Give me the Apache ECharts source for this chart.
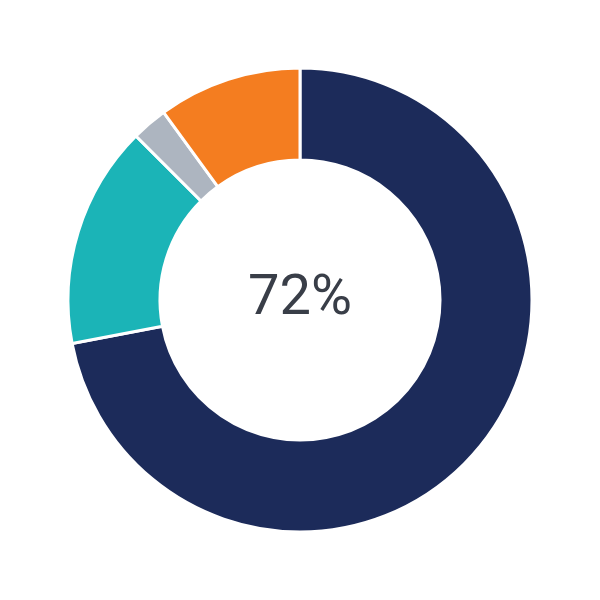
<!DOCTYPE html>
<html><head><meta charset="utf-8">
<script src="https://cdn.jsdelivr.net/npm/echarts@6/dist/echarts.min.js"></script>
<style>html,body{margin:0;padding:0;background:#fff}#c{width:600px;height:600px}</style>
</head><body><div id="c"></div>
<script>
var categories = ['A', 'B', 'C', 'D'];
var values = [72, 15.5, 2.5, 10];
var colors = ['#1c2b5a', '#1bb4b7', '#adb5c0', '#f47d20'];
var centerLabel = '72%';
var chart = echarts.init(document.getElementById('c'));
chart.setOption({
  animation: false,
  graphic: [{type: 'text', left: 'center', top: 'middle', style: {text: centerLabel, fontSize: 56, fontFamily: 'Roboto', fill: '#393e48'}}],
  series: [{
    type: 'pie',
    radius: [140, 232],
    center: [300, 300],
    startAngle: 90,
    clockwise: true,
    label: {show: false},
    labelLine: {show: false},
    itemStyle: {borderColor: '#fff', borderWidth: 3},
    data: categories.map(function (c, i) { return {name: c, value: values[i], itemStyle: {color: colors[i]}}; })
  }]
});
</script></body></html>
